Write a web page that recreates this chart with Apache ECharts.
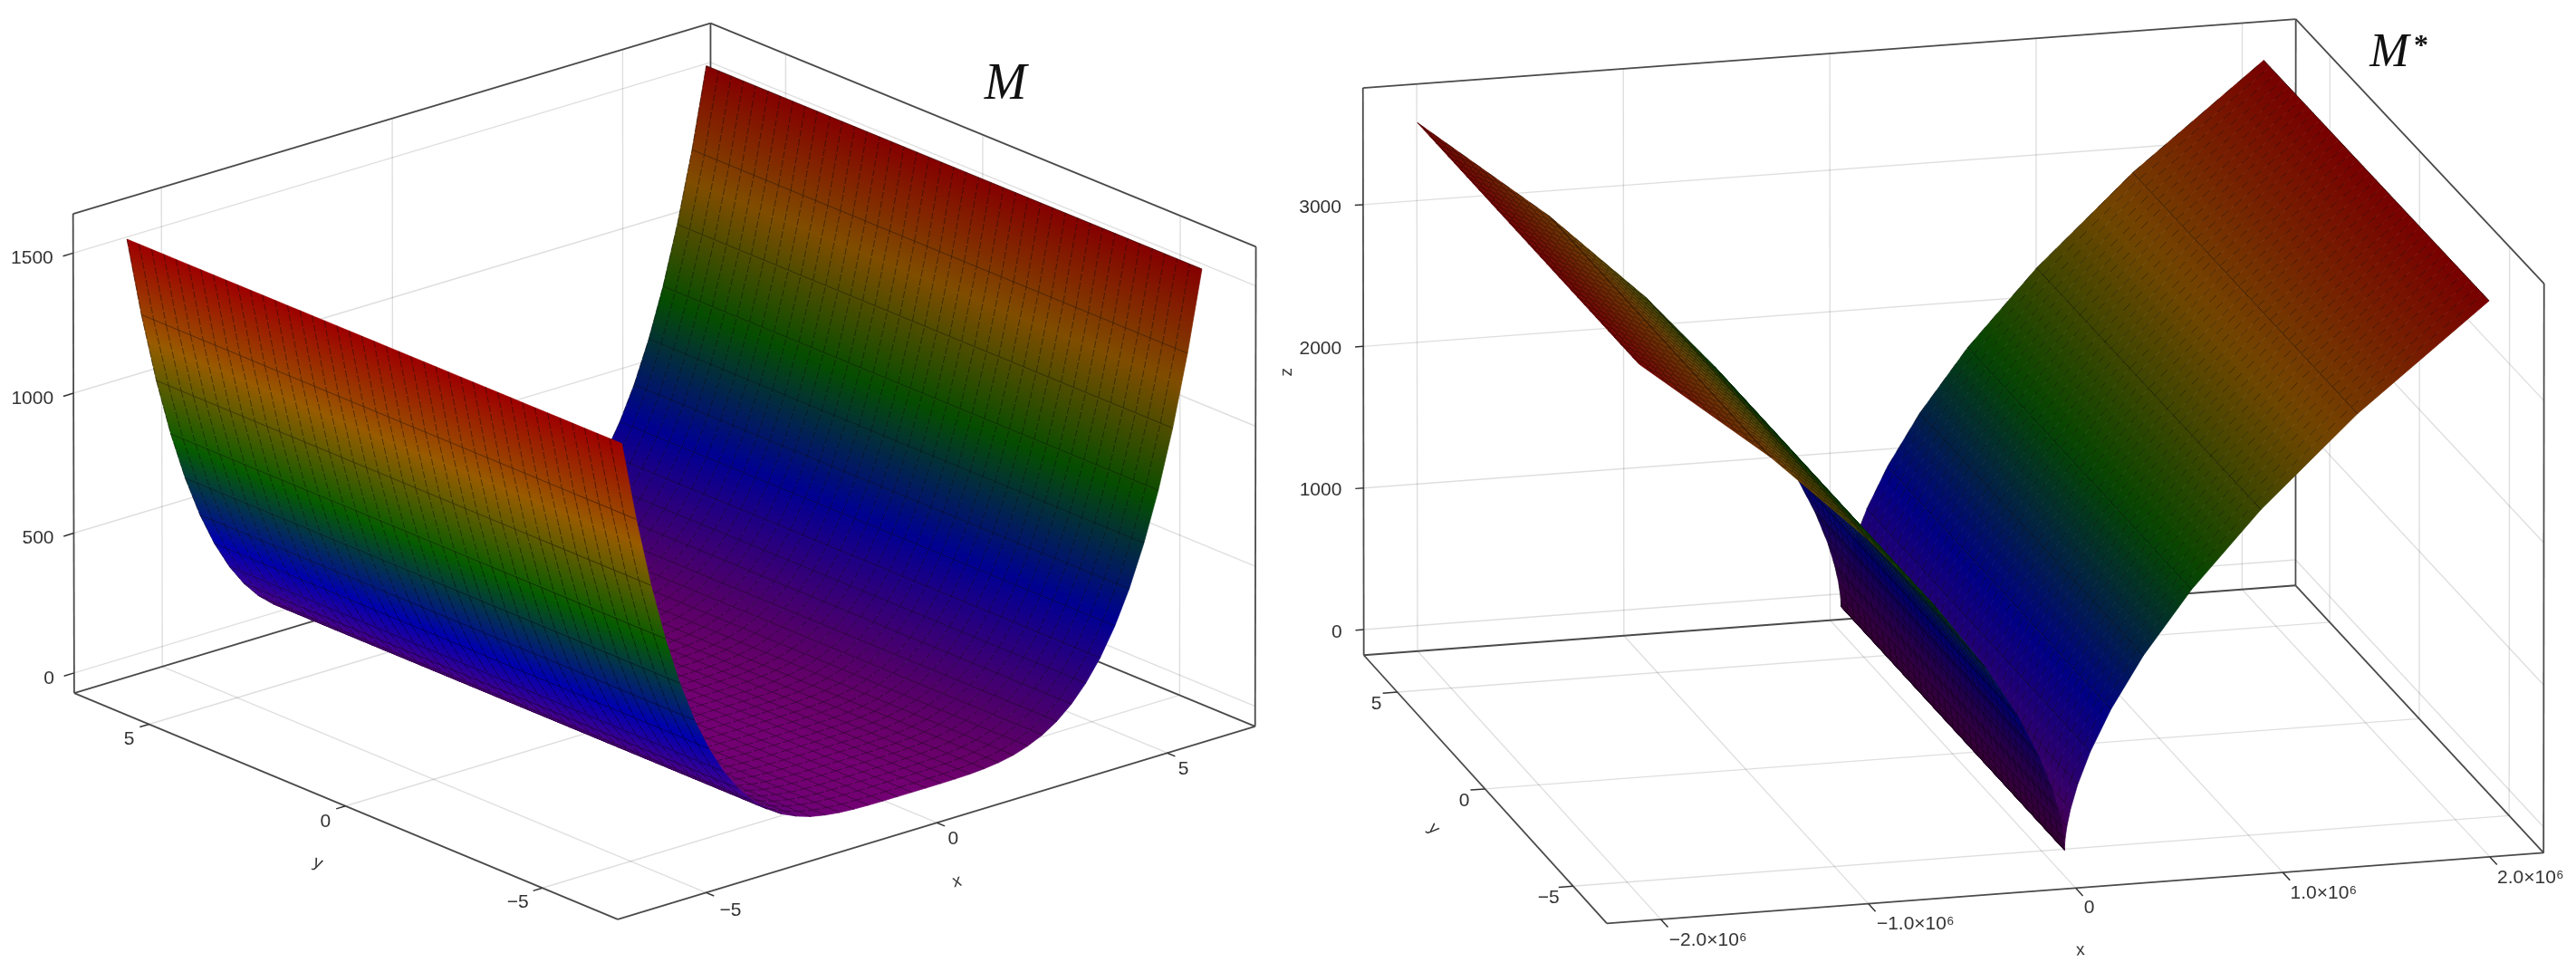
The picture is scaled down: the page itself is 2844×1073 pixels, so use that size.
<!DOCTYPE html>
<html>
<head>
<meta charset="utf-8">
<title>M and M*</title>
<style>html,body{margin:0;padding:0;background:#fff}#chart{width:2844px;height:1073px}</style>
<script src="https://cdn.jsdelivr.net/npm/echarts@6/dist/echarts.min.js"></script>
</head>
<body>
<div id="chart"></div>
<script>
// Surface M: a height profile along x, extruded along y
const leftX = [-6.28,-5.97,-5.65,-5.34,-5.03,-4.71,-4.40,-4.08,-3.77,-3.46,-3.14,-2.83,-2.51,-2.20,-1.88,-1.57,-1.26,-0.94,-0.63,-0.31,0,0.31,0.63,0.94,1.26,1.57,1.88,2.20,2.51,2.83,3.14,3.46,3.77,4.08,4.40,4.71,5.03,5.34,5.65,5.97,6.28];
const leftY = [-6.28,-5.97,-5.65,-5.34,-5.03,-4.71,-4.40,-4.08,-3.77,-3.46,-3.14,-2.83,-2.51,-2.20,-1.88,-1.57,-1.26,-0.94,-0.63,-0.31,0,0.31,0.63,0.94,1.26,1.57,1.88,2.20,2.51,2.83,3.14,3.46,3.77,4.08,4.40,4.71,5.03,5.34,5.65,5.97,6.28];
const leftZ = [1555,1270,1019,813,640,492,375,277,202,143,97,64,40,23,12.5,6,2.5,0.8,0.2,0,0,0,0.2,0.8,2.5,6,12.5,23,40,64,97,143,202,277,375,492,640,813,1019,1270,1555];

// Surface M*: same construction, with strongly stretched x nodes
const rightX = [-2050000,-1414600,-948500,-613900,-381200,-225100,-124900,-64060,-29650,-11910,-3900,-925,-122,-4,0,4,122,925,3900,11910,29650,64060,124900,225100,381200,613900,948500,1414600,2050000];
const rightY = [-6.28,-5.93,-5.58,-5.23,-4.88,-4.54,-4.19,-3.84,-3.49,-3.14,-2.79,-2.44,-2.09,-1.75,-1.40,-1.05,-0.70,-0.35,0,0.35,0.70,1.05,1.40,1.75,2.09,2.44,2.79,3.14,3.49,3.84,4.19,4.54,4.88,5.23,5.58,5.93,6.28];
const rightZ = [3640,2915,2292,1766,1327,967,679,455,287,166,85,36,11,1,0,1,11,36,85,166,287,455,679,967,1327,1766,2292,2915,3640];

// Tick values and their labels
const leftXTicks = [-5,0,5];
const leftYTicks = [-5,0,5];
const leftZTicks = [0,500,1000,1500];
const rightXTicks = [-2000000,-1000000,0,1000000,2000000];
const rightXTickLabels = ['−2.0×10⁶','−1.0×10⁶','0','1.0×10⁶','2.0×10⁶'];
const rightYTicks = [-5,0,5];
const rightZTicks = [0,1000,2000,3000];

const colorStops3d = [[115,0,115],[0,0,175],[6,92,0],[152,92,0],[158,0,0]];

// Panel set-up: box extents, view calibration (box corner -> canvas position) and styling
const panels = {
  left: {
    box: {x:[-6.91,6.91], y:[-6.91,6.91], z:[-72,1640]},
    anchors: [
      [0,1,0, 81.6,764],[0,1,1, 81,236.4],[1,1,1, 784,25],[1,1,0, 785,555],
      [1,0,1, 1386.7,272.7],[1,0,0, 1385.6,800.7],[0,0,0, 682,1015.7]
    ],
    zMax: 1555,
    shade: x => x < 0 ? 1 : 1 - 0.16 * Math.min(1, x / 3),
    ruling: {color:'rgba(0,0,0,0.42)', width:1},
    along: {color:'rgba(0,0,0,0.5)', width:0.9, dash:[8,2]},
    xOffset: v => v < 0 ? [27,20] : [18,18],
    yOffset: v => v < 0 ? [-27,16] : [-22,17],
    zLabelGap: -22, zLabelShift: 6,
    xTickLen: 0.2, yTickLen: 0.2, zTickLen: 0.22
  },
  right: {
    box: {x:[-2260000,2260000], y:[-6.91,6.91], z:[-181,3823]},
    anchors: [
      [0,1,0, 1505.6,723.3],[0,1,1, 1504.7,97.1],[1,1,1, 2534.6,21.4],[1,1,0, 2534.6,646],
      [1,0,1, 2808.8,312.9],[1,0,0, 2808,941.7],[0,0,0, 1774.2,1019.3]
    ],
    zMax: 3640,
    shade: x => x < 0 ? 0.5 + 0.18 * Math.min(1, -x / 380000) : 0.6 + 0.16 * Math.min(1, x / 30000),
    ruling: {color:'rgba(0,0,0,0.5)', width:1},
    along: {color:'rgba(0,0,0,0.42)', width:1, dash:[11,8]},
    xOffset: v => v === 0 ? [15,22] : [v < 0 ? 52 : 45, 23],
    yOffset: v => v < 0 ? [-27,13] : [-23,13],
    zLabelGap: -24, zLabelShift: 3,
    xTickLen: 70000, yTickLen: 0.4, zTickLen: 40000
  }
};

// Least-squares projective camera from normalised box corners to the canvas plane
function fitCamera(panel) {
  const rows = [], rhs = [];
  panel.anchors.forEach(a => {
    const u = a[0]*2-1, v = a[1]*2-1, w = a[2]*2-1, U = a[3]/1000, V = a[4]/1000;
    rows.push([u,v,w,1,0,0,0,0,-U*u,-U*v,-U*w]); rhs.push(U);
    rows.push([0,0,0,0,u,v,w,1,-V*u,-V*v,-V*w]); rhs.push(V);
  });
  const n = 11, A = [];
  for (let i = 0; i < n; i++) {
    A.push(new Array(n + 1).fill(0));
    for (let j = 0; j < n; j++) rows.forEach(r => { A[i][j] += r[i]*r[j]; });
    rows.forEach((r, k) => { A[i][n] += r[i]*rhs[k]; });
  }
  for (let c = 0; c < n; c++) {
    let best = c;
    for (let r = c + 1; r < n; r++) if (Math.abs(A[r][c]) > Math.abs(A[best][c])) best = r;
    [A[c], A[best]] = [A[best], A[c]];
    for (let r = 0; r < n; r++) {
      if (r === c) continue;
      const f = A[r][c] / A[c][c];
      for (let k = c; k <= n; k++) A[r][k] -= f * A[c][k];
    }
  }
  const p = A.map((row, i) => row[n] / row[i]);
  const b = panel.box;
  return (x, y, z) => {
    const u = (x-b.x[0])/(b.x[1]-b.x[0])*2-1, v = (y-b.y[0])/(b.y[1]-b.y[0])*2-1, w = (z-b.z[0])/(b.z[1]-b.z[0])*2-1;
    const d = p[8]*u + p[9]*v + p[10]*w + 1;
    return [1000*(p[0]*u+p[1]*v+p[2]*w+p[3])/d, 1000*(p[4]*u+p[5]*v+p[6]*w+p[7])/d];
  };
}
panels.left.project = fitCamera(panels.left);
panels.right.project = fitCamera(panels.right);

function heightColor(z, x, panel) {
  const f = Math.max(0, Math.min(1, z / panel.zMax)) * (colorStops3d.length - 1);
  const i = Math.min(colorStops3d.length - 2, Math.floor(f)), t = f - i, s = panel.shade(x);
  const c = colorStops3d[i].map((a, k) => Math.round((a + (colorStops3d[i+1][k] - a) * t) * s));
  return 'rgb(' + c.join(',') + ')';
}

// Far-to-near quad list for one surface, each carrying its own x, y, z corner values
function surfaceSeries(panel, xs, ys, zs) {
  const cells = [];
  for (let i = xs.length - 2; i >= 0; i--)
    for (let j = ys.length - 2; j >= 0; j--)
      cells.push([xs[i], xs[i+1], ys[j], ys[j+1], zs[i], zs[i+1]]);
  return {
    type: 'custom', coordinateSystem: 'cartesian2d', silent: true, clip: false, z: 5,
    animation: false, progressive: 0, data: cells,
    renderItem: (params, api) => {
      const [x0, x1, y0, y1, z0, z1] = [0,1,2,3,4,5].map(k => api.value(k));
      const P = (x, y, z) => api.coord(panel.project(x, y, z));
      const a = P(x0, y0, z0), b = P(x1, y0, z1), c = P(x1, y1, z1), d = P(x0, y1, z0);
      // gradient runs across the rulings so colour bands stay along y
      let rx = d[0]-a[0], ry = d[1]-a[1];
      const len = Math.hypot(rx, ry) || 1; rx /= len; ry /= len;
      const nx = -ry, ny = rx, span = (b[0]-a[0])*nx + (b[1]-a[1])*ny;
      const stops = [];
      for (let k = 0; k <= 5; k++) {
        const t = k / 5;
        stops.push({offset: t, color: heightColor(z0 + (z1 - z0) * t, x0 + (x1 - x0) * t, panel)});
      }
      const fill = {type:'linear', x:a[0], y:a[1], x2:a[0]+nx*span, y2:a[1]+ny*span, colorStops:stops, global:true};
      return {
        type: 'group',
        children: [
          {type:'polygon', shape:{points:[a,b,c,d]}, style:{fill:fill, stroke:fill, lineWidth:0.7}},
          {type:'line', shape:{x1:b[0],y1:b[1],x2:c[0],y2:c[1]},
           style:{fill:null, stroke:panel.ruling.color, lineWidth:panel.ruling.width}},
          {type:'line', shape:{x1:d[0],y1:d[1],x2:c[0],y2:c[1]},
           style:{fill:null, stroke:panel.along.color, lineWidth:panel.along.width, lineDash:panel.along.dash}}
        ]
      };
    }
  };
}

// Straight 3D segments: frame edges, grid lines and ticks
function segmentSeries(panel, segs, style, z) {
  return {
    type:'custom', coordinateSystem:'cartesian2d', silent:true, clip:false, z:z, animation:false,
    data: segs,
    renderItem: (params, api) => {
      const a = api.coord(panel.project(api.value(0), api.value(1), api.value(2)));
      const b = api.coord(panel.project(api.value(3), api.value(4), api.value(5)));
      return {type:'line', shape:{x1:a[0],y1:a[1],x2:b[0],y2:b[1]}, style:Object.assign({fill:null}, style)};
    }
  };
}

function frameSegments(panel) {
  const {x:[x0,x1], y:[y0,y1], z:[z0,z1]} = panel.box;
  return [
    [x0,y1,z0, x0,y1,z1],[x0,y1,z1, x1,y1,z1],[x1,y1,z1, x1,y0,z1],[x1,y0,z1, x1,y0,z0],
    [x1,y1,z1, x1,y1,z0],[x0,y1,z0, x0,y0,z0],[x0,y0,z0, x1,y0,z0],[x0,y1,z0, x1,y1,z0],[x1,y0,z0, x1,y1,z0]
  ];
}

function gridSegments(panel, xT, yT, zT) {
  const {x:[x0,x1], y:[y0,y1], z:[z0,z1]} = panel.box, out = [];
  xT.forEach(v => { out.push([v,y0,z0, v,y1,z0],[v,y1,z0, v,y1,z1]); });
  yT.forEach(v => { out.push([x0,v,z0, x1,v,z0],[x1,v,z0, x1,v,z1]); });
  zT.forEach(v => { out.push([x0,y1,v, x1,y1,v],[x1,y1,v, x1,y0,v]); });
  return out;
}

function tickSegments(panel, xT, yT, zT) {
  const {x:[x0,x1], y:[y0,y1], z:[z0,z1]} = panel.box, out = [];
  xT.forEach(v => out.push([v,y0,z0, v,y0-panel.yTickLen,z0]));
  yT.forEach(v => out.push([x0,v,z0, x0-panel.xTickLen,v,z0]));
  zT.forEach(v => out.push([x0,y1,v, x0-panel.zTickLen,y1,v]));
  return out;
}

// Text items: either tied to a 3D anchor through the projection, or placed on the chart plane
const tickFont = {fontFamily:'Liberation Sans', fontSize:21, fill:'#333'};
function textSeries(items) {
  return {
    type:'custom', coordinateSystem:'cartesian2d', silent:true, clip:false, z:8, animation:false,
    data: items.map((_, i) => [i, i]),
    renderItem: (params, api) => {
      const t = items[params.dataIndex];
      const base = t.anchor ? api.coord(t.panel.project(t.anchor[0], t.anchor[1], t.anchor[2])) : api.coord(t.at);
      return {
        type:'text', x: base[0] + (t.dx || 0), y: base[1] + (t.dy || 0), rotation: t.rotation || 0,
        style: Object.assign({text:t.text, align:t.align || 'center', verticalAlign:'middle'}, tickFont, t.font || {})
      };
    }
  };
}

function tickLabels(panel, xT, xL, yT, zT) {
  const {x:[x0], y:[y0,y1], z:[z0]} = panel.box, out = [];
  xT.forEach((v, i) => { const o = panel.xOffset(v); out.push({panel, anchor:[v,y0,z0], dx:o[0], dy:o[1], text:xL[i]}); });
  yT.forEach(v => { const o = panel.yOffset(v); out.push({panel, anchor:[x0,v,z0], dx:o[0], dy:o[1], text:String(v).replace('-','−')}); });
  zT.forEach(v => out.push({panel, anchor:[x0,y1,v], dx:panel.zLabelGap, dy:panel.zLabelShift, text:String(v), align:'right'}));
  return out;
}

const L = panels.left, R = panels.right;
const titleFont = {fontFamily:'Liberation Serif', fontStyle:'italic', fontSize:56, fill:'#111'};
const nameFont = {fontSize:19, fill:'#333'};

const texts = [].concat(
  tickLabels(L, leftXTicks, leftXTicks.map(v => String(v).replace('-','−')), leftYTicks, leftZTicks),
  tickLabels(R, rightXTicks, rightXTickLabels, rightYTicks, rightZTicks),
  [
    {at:[1056.5,973.3], text:'x', font:nameFont, rotation:0.25},
    {at:[350.8,952.7], text:'y', font:nameFont, rotation:-0.4},
    {at:[2296.8,1049.3], text:'x', font:nameFont, rotation:0.07},
    {at:[1582.7,915], text:'y', font:nameFont, rotation:-0.82},
    {at:[1420.7,410.7], text:'z', font:nameFont, rotation:Math.PI/2},
    {at:[1110,94], text:'M', font:titleFont},
    {at:[2638,59], text:'M', font:Object.assign({}, titleFont, {fontSize:52})},
    {at:[2673,52], text:'*', font:{fontFamily:'Liberation Serif', fontWeight:'bold', fontSize:32, fill:'#111'}}
  ]
);

function panelSeries(panel, xT, yT, zT, xs, ys, zs) {
  return [
    segmentSeries(panel, gridSegments(panel, xT, yT, zT), {stroke:'rgba(0,0,0,0.13)', lineWidth:1.4}, 1),
    segmentSeries(panel, frameSegments(panel), {stroke:'#4a4a4a', lineWidth:1.8}, 2),
    segmentSeries(panel, tickSegments(panel, xT, yT, zT), {stroke:'#333', lineWidth:1.5}, 2),
    surfaceSeries(panel, xs, ys, zs)
  ];
}

const chart = echarts.init(document.getElementById('chart'), null, {renderer:'canvas'});
chart.setOption({
  backgroundColor:'#fff',
  animation:false,
  grid:{left:0, right:0, top:0, bottom:0},
  xAxis:{type:'value', min:0, max:2844, show:false},
  yAxis:{type:'value', min:0, max:1073, inverse:true, show:false},
  series:[].concat(
    panelSeries(L, leftXTicks, leftYTicks, leftZTicks, leftX, leftY, leftZ),
    panelSeries(R, rightXTicks, rightYTicks, rightZTicks, rightX, rightY, rightZ),
    [textSeries(texts)]
  )
});
</script>
</body>
</html>
